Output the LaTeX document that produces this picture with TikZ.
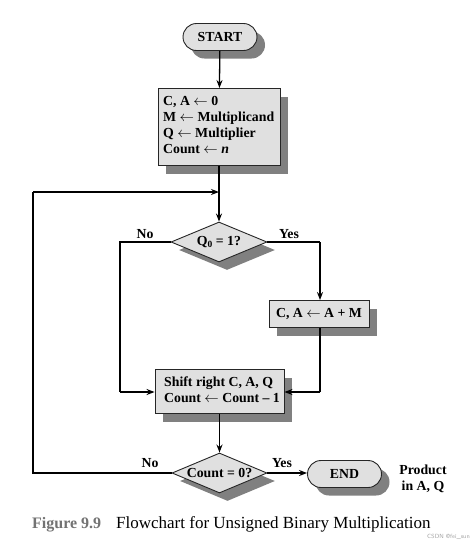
\documentclass[tikz,border=0pt]{standalone}
\usepackage{fontspec}
\setmainfont{Liberation Serif}
\usetikzlibrary{shapes.geometric,shapes.misc,shadows,arrows.meta}
\begin{document}
\begin{tikzpicture}[x=1pt,y=-1pt,
  txt/.style={font=\fontsize{13.8}{16}\selectfont\bfseries},
  base/.style={txt, draw=black!85, line width=0.9pt, fill=black!12,
    drop shadow={shadow xshift=8pt,shadow yshift=-8pt,fill=black!50,opacity=1}},
  term/.style={base, rounded rectangle, minimum width=74pt, minimum height=27pt, inner sep=0pt},
  procbox/.style={base, rectangle, inner sep=0pt},
  decide/.style={base, diamond, inner sep=0pt},
  flow/.style={line width=1.3pt, -{Stealth[length=8pt,width=6pt]}},
  plain/.style={line width=1.3pt},
  lab/.style={txt, inner sep=0pt}
]
\useasboundingbox (0,0) rectangle (474,544);
\fill[white] (0,0) rectangle (474,544);

\node[term] (start) at (220,37) {START};
\node[procbox, minimum width=122pt, minimum height=77pt] (init) at (219,127) {};
\node[lab, anchor=west, align=left] (initt) at (163,125)
  {C, A $\leftarrow$ 0\\M $\leftarrow$ Multiplicand\\Q $\leftarrow$ Multiplier\\Count $\leftarrow$ \textit{n}};
\node[decide, minimum width=96pt, minimum height=40pt] (q0) at (219,242) {};
\node[lab] (q0t) at (q0.center) {Q\raisebox{-0.35ex}{\fontsize{9.5}{9}\selectfont 0} = 1?};
\node[procbox, minimum width=100pt, minimum height=27pt] (add) at (319,314) {C, A $\leftarrow$ A + M};
\node[procbox, minimum width=129pt, minimum height=44pt] (shift) at (219.5,391.5) {};
\node[lab, anchor=west, align=left] (shiftt) at (164,390)
  {Shift right C, A, Q\\Count $\leftarrow$ Count -- 1};
\node[decide, minimum width=95pt, minimum height=40pt] (cnt) at (219.5,473) {};
\node[lab] (cntt) at (cnt.center) {Count = 0?};
\node[term] (end) at (344.5,474) {END};
\node[lab, align=center] (prod) at (423,479) {Product\\in A, Q};

\coordinate (j) at (219,192);
\coordinate (ll) at (33,473);
\coordinate (lt) at (33,192);
\coordinate (nl) at (120,242);
\coordinate (nb) at (120,392);
\coordinate (yr) at (320,242);
\coordinate (ab) at (320,392);

\draw[flow] (start) -- (init);
\draw[flow] (init) -- (q0);
\draw[plain] (cnt.west) -- (ll) -- (lt);
\draw[flow] (lt) -- (j);
\draw[plain] (q0.west) -- (nl) -- (nb);
\draw[flow] (nb) -- (nb -| shift.west);
\draw[plain] (q0.east) -- (yr);
\draw[flow] (yr) -- (yr |- add.north);
\draw[plain] (add.south -| ab) -- (ab);
\draw[flow] (ab) -- (ab -| shift.east);
\draw[flow] (shift) -- (cnt);
\draw[flow] (cnt.east) -- (end.west |- cnt.east);

\node[lab] (no1) at (145,234) {No};
\node[lab] (yes1) at (289,234) {Yes};
\node[lab] (no2) at (150,463) {No};
\node[lab] (yes2) at (282,463) {Yes};

\node[anchor=base west, inner sep=0pt, font=\fontsize{16}{18}\selectfont\bfseries, text=black!55] (figno) at (32,528) {Figure 9.9};
\node[anchor=base west, inner sep=0pt, font=\fontsize{17}{18}\selectfont] (cap) at (116,528) {Flowchart for Unsigned Binary Multiplication};
\node[anchor=base east, inner sep=0pt, font=\fontsize{6}{7}\selectfont\sffamily, text=black!35] (wm) at (470,538) {CSDN @fei\_sun};
\end{tikzpicture}
\end{document}
